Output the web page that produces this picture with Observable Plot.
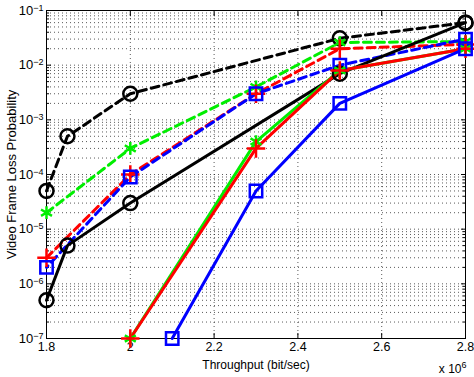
<!DOCTYPE html>
<html><head><meta charset="utf-8">
<script src="https://cdn.jsdelivr.net/npm/d3@7"></script>
<script src="https://cdn.jsdelivr.net/npm/@observablehq/plot@0.6"></script>
<style>body{margin:0;background:#fff}</style>
</head><body><div id="chart"></div>
<script>
const xTicks = [1.8, 2.0, 2.2, 2.4, 2.6, 2.8];
const xTickLabels = ["1.8", "2", "2.2", "2.4", "2.6", "2.8"];
const yTicks = [1e-7, 1e-6, 1e-5, 1e-4, 1e-3, 1e-2, 1e-1];
const yTickExponents = ["-7", "-6", "-5", "-4", "-3", "-2", "-1"];

const blackDashX = [1.8, 1.85, 2.0, 2.5, 2.8];
const blackDashY = [5e-5, 5e-4, 3e-3, 3.1e-2, 6e-2];
const greenDashX = [1.8, 2.0, 2.3, 2.5, 2.8];
const greenDashY = [2e-5, 3e-4, 4e-3, 2.6e-2, 2.7e-2];
const redDashX = [1.8, 2.0, 2.3, 2.5, 2.8];
const redDashY = [3e-6, 1e-4, 3e-3, 2e-2, 2.4e-2];
const blueDashX = [1.8, 2.0, 2.3, 2.5, 2.8];
const blueDashY = [2e-6, 9e-5, 3e-3, 1e-2, 3e-2];
const blackSolidX = [1.8, 1.85, 2.0, 2.5, 2.8];
const blackSolidY = [5e-7, 5e-6, 3e-5, 7e-3, 6e-2];
const greenSolidX = [2.0, 2.3, 2.5, 2.8];
const greenSolidY = [1e-7, 4e-4, 8e-3, 2e-2];
const redSolidX = [2.0, 2.3, 2.5, 2.8];
const redSolidY = [1e-7, 3e-4, 8e-3, 2e-2];
const blueSolidX = [2.1, 2.3, 2.5, 2.8];
const blueSolidY = [1e-7, 5e-5, 2e-3, 2e-2];

const toPts = (xs, ys) => xs.map((x, i) => ({x, y: ys[i]}));

const series = [
  {pts: toPts(blackDashX, blackDashY), color: "#000000", dash: "8,5", symbol: "circle", r: 7},
  {pts: toPts(greenDashX, greenDashY), color: "#00ee00", dash: "8,5", symbol: "asterisk", r: 6},
  {pts: toPts(redDashX, redDashY), color: "#ff0000", dash: "8,5", symbol: "plus", r: 6},
  {pts: toPts(blueDashX, blueDashY), color: "#0000ff", dash: "8,5", dashOffset: 6, symbol: "square", r: 7},
  {pts: toPts(blackSolidX, blackSolidY), color: "#000000", dash: null, symbol: "circle", r: 7},
  {pts: toPts(greenSolidX, greenSolidY), color: "#00ee00", dash: null, symbol: "asterisk", r: 6},
  {pts: toPts(redSolidX, redSolidY), color: "#ff0000", dash: null, symbol: "plus", r: 6},
  {pts: toPts(blueSolidX, blueSolidY), color: "#0000ff", dash: null, symbol: "square", r: 7}
];

const minorY = [];
for (let e = -7; e < -1; e++) for (let m = 2; m <= 9; m++) minorY.push(m * Math.pow(10, e));
const gridY = [...minorY, ...yTicks.slice(1, -1)];
const gridX = xTicks.slice(1, -1);

const marks = [
  Plot.ruleY(gridY, {y: d => d, stroke: "#000", strokeWidth: 1, strokeDasharray: "1,3", strokeOpacity: 0.65}),
  Plot.ruleX(gridX, {x: d => d, stroke: "#000", strokeWidth: 1, strokeDasharray: "1,3", strokeOpacity: 0.65}),
  Plot.axisX({ticks: xTicks, tickFormat: d => xTickLabels[xTicks.indexOf(d)], tickSize: -5, tickPadding: 9, fontSize: 12.5, label: null}),
  Plot.axisX({anchor: "top", ticks: xTicks, tickSize: -5, tickFormat: () => "", label: null}),
  Plot.axisY({ticks: yTicks, tickFormat: d => "10^" + yTickExponents[yTicks.indexOf(d)], tickSize: -5, tickPadding: 8, fontSize: 13, label: "Video Frame Loss Probability", labelAnchor: "center", labelArrow: "none", labelOffset: 40}),
  Plot.axisY({anchor: "right", ticks: yTicks, tickSize: -5, tickFormat: () => "", label: null}),
  Plot.axisY({ticks: minorY, tickSize: -3, tickFormat: () => "", label: null}),
  Plot.axisY({anchor: "right", ticks: minorY, tickSize: -3, tickFormat: () => "", label: null}),
  Plot.frame({stroke: "#000"})
];
for (const s of series) {
  marks.push(Plot.line(s.pts, {x: "x", y: "y", stroke: s.color, strokeWidth: 3, strokeDasharray: s.dash, strokeDashoffset: s.dashOffset || 0}));
}
for (const s of series) {
  marks.push(Plot.dot(s.pts, {x: "x", y: "y", symbol: () => s.symbol, stroke: s.color, fill: "none", strokeWidth: 2.5, r: s.r}));
}
marks.push(Plot.text(["Throughput (bit/sec)"], {text: d => d, frameAnchor: "bottom", dy: 30, fontSize: 12, fill: "#000"}));
marks.push(Plot.text(["x 10^6"], {text: d => d, frameAnchor: "bottom-right", textAnchor: "end", dy: 34, dx: 1, fontSize: 12, fill: "#000"}));

const chart = Plot.plot({
  width: 474,
  height: 377,
  marginLeft: 46,
  marginRight: 9,
  marginTop: 10,
  marginBottom: 39,
  style: {fontFamily: "Liberation Sans, Arial, sans-serif", fontSize: "12px", color: "#000", background: "#fff"},
  x: {domain: [1.8, 2.8]},
  y: {type: "log", domain: [1e-7, 1e-1]},
  symbol: {type: "identity"},
  marks
});

// render "10^k" labels with a raised exponent
d3.select(chart).selectAll("text").each(function() {
  const t = this.textContent;
  const m = /^(.*10)\^(-?\d+)$/.exec(t);
  if (!m) return;
  const sel = d3.select(this);
  sel.text(null);
  sel.append("tspan").text(m[1]);
  sel.append("tspan").attr("dy", "-0.45em").attr("font-size", "9px").text(m[2].replace("-", "−"));
});
document.getElementById("chart").appendChild(chart);
</script></body></html>
